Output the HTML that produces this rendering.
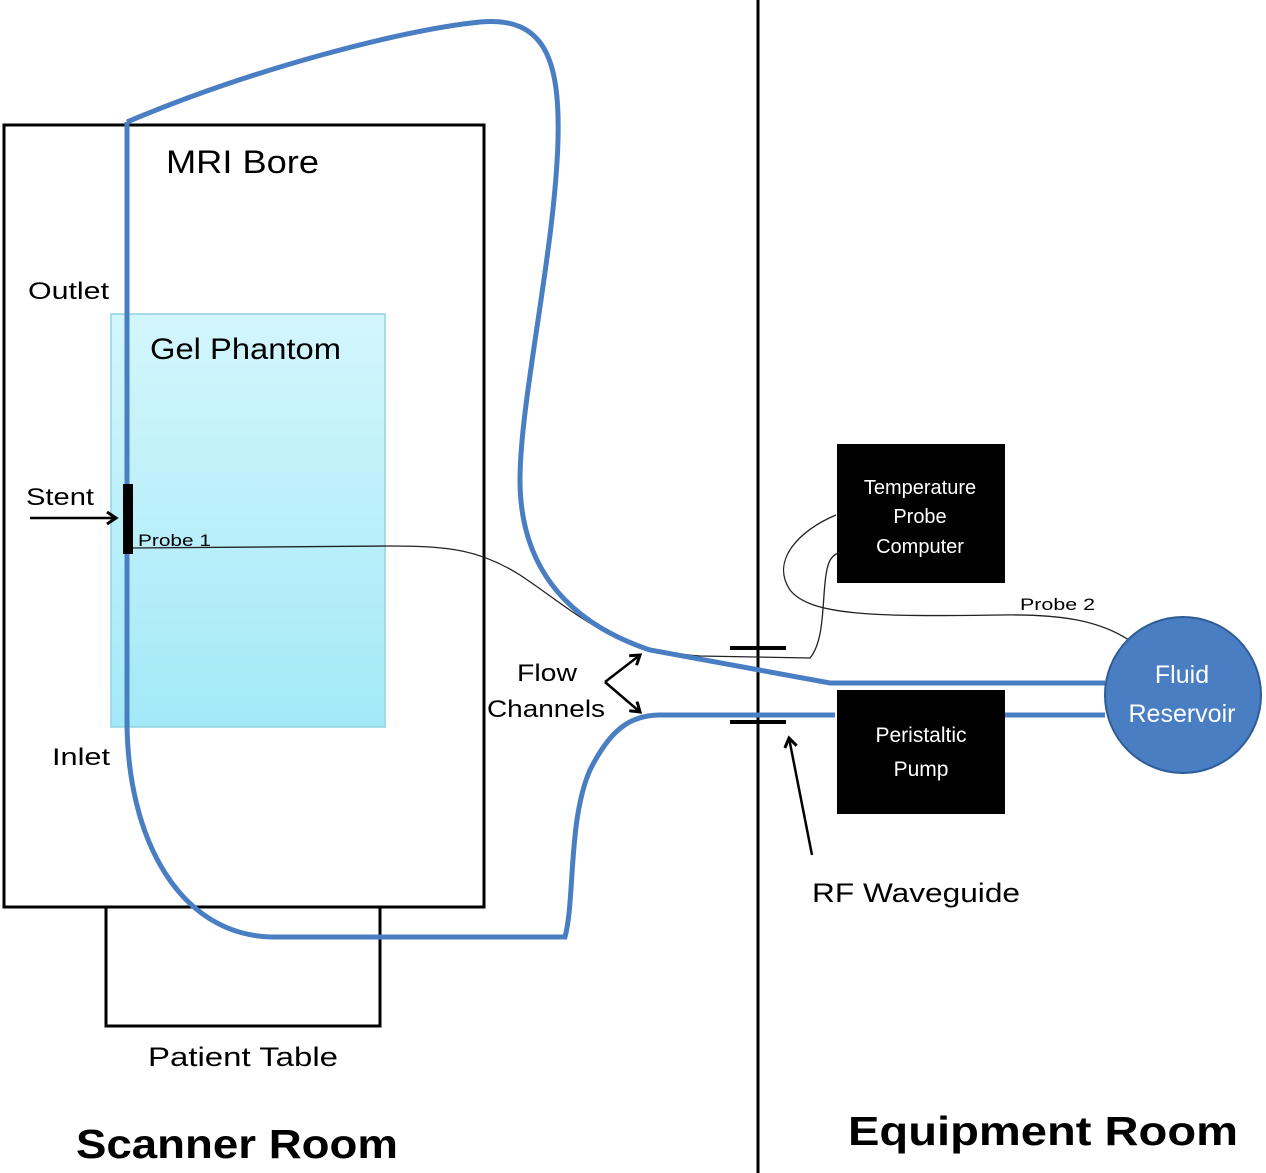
<!DOCTYPE html>
<html><head><style>html,body{margin:0;padding:0;background:#fff}svg{display:block}</style></head><body>
<svg width="1266" height="1173" viewBox="0 0 1266 1173" xmlns="http://www.w3.org/2000/svg" font-family="Liberation Sans, sans-serif">
<defs>
<linearGradient id="g" x1="0" y1="0" x2="0" y2="1"><stop offset="0" stop-color="#d3f6fc"/><stop offset="1" stop-color="#a3e9f8"/></linearGradient>
<marker id="a" markerWidth="14" markerHeight="14" refX="11" refY="7" orient="auto" markerUnits="userSpaceOnUse"><path d="M2,1 L11,7 L2,13" fill="none" stroke="#000" stroke-width="3"/></marker>
</defs>
<rect x="4" y="125" width="480" height="782" fill="none" stroke="#000" stroke-width="3"/>
<rect x="106" y="907" width="274" height="119" fill="none" stroke="#000" stroke-width="3"/>
<rect x="111" y="314" width="274" height="413" fill="url(#g)" stroke="#8fd4e4" stroke-width="1.5"/>
<line x1="758" y1="0" x2="758" y2="1173" stroke="#000" stroke-width="3"/>
<line x1="730" y1="648" x2="786" y2="648" stroke="#000" stroke-width="4"/>
<line x1="730" y1="722" x2="786" y2="722" stroke="#000" stroke-width="4"/>
<text x="166" y="173" font-size="32" textLength="153" lengthAdjust="spacingAndGlyphs">MRI Bore</text>
<text x="28" y="299" font-size="24" textLength="81" lengthAdjust="spacingAndGlyphs">Outlet</text>
<text x="150" y="359" font-size="30" textLength="191" lengthAdjust="spacingAndGlyphs">Gel Phantom</text>
<text x="26" y="505" font-size="24" textLength="68" lengthAdjust="spacingAndGlyphs">Stent</text>
<text x="52" y="765" font-size="24" textLength="58" lengthAdjust="spacingAndGlyphs">Inlet</text>
<text x="148" y="1066" font-size="27" textLength="190" lengthAdjust="spacingAndGlyphs">Patient Table</text>
<text x="76" y="1158" font-size="41" font-weight="bold" textLength="322" lengthAdjust="spacingAndGlyphs">Scanner Room</text>
<text x="848" y="1145" font-size="41" font-weight="bold" textLength="390" lengthAdjust="spacingAndGlyphs">Equipment Room</text>
<text x="517" y="681" font-size="24" textLength="60" lengthAdjust="spacingAndGlyphs">Flow</text>
<text x="487" y="717" font-size="24" textLength="118" lengthAdjust="spacingAndGlyphs">Channels</text>
<text x="812" y="902" font-size="27" textLength="208" lengthAdjust="spacingAndGlyphs">RF Waveguide</text>
<text x="138" y="546" font-size="17" textLength="73" lengthAdjust="spacingAndGlyphs">Probe 1</text>
<text x="1020" y="610" font-size="17" textLength="75" lengthAdjust="spacingAndGlyphs">Probe 2</text>
<path d="M130,548 L390,546 C450,546 480,550 520,575 C580,615 610,650 700,656 L810,658 C825,640 822,600 826,575 C828,560 832,556 838,553" fill="none" stroke="#222" stroke-width="1.3"/>
<path d="M836,515 C800,530 770,560 790,590 C810,615 870,617 1000,615 C1060,614 1100,620 1132,642" fill="none" stroke="#222" stroke-width="1.3"/>
<g fill="none" stroke="#4a7ec3" stroke-width="5">
<path d="M127,122 L127,720 C127,840 180,937 275,937 L565,937 C575,900 568,820 590,770 C610,730 630,715 660,715 L835,715"/>
<path d="M127,122 C250,70 400,30 480,22 C545,16 560,60 558,140 C555,250 520,400 520,480 C520,560 560,620 650,650 L830,683 L1105,683"/>
<path d="M1005,715 L1105,715"/>
</g>
<rect x="123" y="484" width="10" height="70" fill="#000"/>
<line x1="30" y1="518" x2="116" y2="518" stroke="#000" stroke-width="2.5" marker-end="url(#a)"/>
<line x1="605" y1="682" x2="640" y2="655" stroke="#000" stroke-width="2.5" marker-end="url(#a)"/>
<line x1="605" y1="682" x2="640" y2="712" stroke="#000" stroke-width="2.5" marker-end="url(#a)"/>
<line x1="812" y1="855" x2="789" y2="738" stroke="#000" stroke-width="2.5" marker-end="url(#a)"/>
<rect x="837" y="444" width="168" height="139" fill="#000"/>
<text fill="#fff" font-size="20" text-anchor="middle"><tspan x="920" y="494">Temperature</tspan><tspan x="920" y="523">Probe</tspan><tspan x="920" y="553">Computer</tspan></text>
<rect x="837" y="690" width="168" height="124" fill="#000"/>
<text fill="#fff" font-size="21" text-anchor="middle"><tspan x="921" y="742">Peristaltic</tspan><tspan x="921" y="776">Pump</tspan></text>
<circle cx="1183" cy="695" r="78" fill="#4a7ec3" stroke="#2e5c96" stroke-width="2"/>
<text fill="#fff" font-size="25" text-anchor="middle"><tspan x="1182" y="683">Fluid</tspan><tspan x="1182" y="722">Reservoir</tspan></text>
</svg>
</body></html>
